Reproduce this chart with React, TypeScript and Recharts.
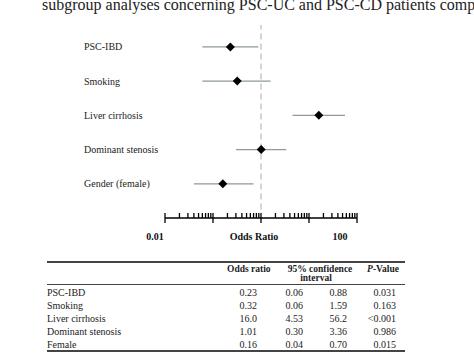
import React from 'react';
import {
  ScatterChart,
  Scatter,
  XAxis,
  YAxis,
  ErrorBar,
  ReferenceLine,
} from 'recharts';

const factorLabels = ['PSC-IBD', 'Smoking', 'Liver cirrhosis', 'Dominant stenosis', 'Gender (female)'];
const tableLabels = ['PSC-IBD', 'Smoking', 'Liver cirrhosis', 'Dominant stenosis', 'Female'];
const oddsRatios = [0.23, 0.32, 16.0, 1.01, 0.16];
const ciLow = [0.06, 0.06, 4.53, 0.3, 0.04];
const ciHigh = [0.88, 1.59, 56.2, 3.36, 0.7];
const pValues = ['0.031', '0.163', '<0.001', '0.986', '0.015'];
const oddsText = ['0.23', '0.32', '16.0', '1.01', '0.16'];
const lowText = ['0.06', '0.06', '4.53', '0.30', '0.04'];
const highText = ['0.88', '1.59', '56.2', '3.36', '0.70'];

const majorTicks = [0.01, 0.1, 1, 10, 100];
const axisLabels: Record<string, string> = { '0.01': '0.01', '1': 'Odds Ratio', '100': '100' };

// minor ticks 2..9 inside each decade
const minorTicks = majorTicks.slice(0, -1).flatMap((d) => [2, 3, 4, 5, 6, 7, 8, 9].map((m) => +(d * m).toPrecision(3)));
const allTicks = [...majorTicks, ...minorTicks].sort((a, b) => a - b);

// rows from top (5) to bottom (1)
const data = factorLabels.map((name, i) => ({
  name,
  row: factorLabels.length - i,
  or: oddsRatios[i],
  err: [oddsRatios[i] - ciLow[i], ciHigh[i] - oddsRatios[i]],
}));

const serif = '"Liberation Serif", "DejaVu Serif", serif';

const Diamond = (props: any) => {
  const { cx, cy } = props;
  const s = 4.5;
  return <polygon points={`${cx},${cy - s} ${cx + s},${cy} ${cx},${cy + s} ${cx - s},${cy}`} fill="#000" />;
};

const XTick = (props: any) => {
  const { x, y, payload } = props;
  const v = payload.value;
  const major = majorTicks.includes(v);
  const label = axisLabels[String(v)];
  const shift = v === 0.01 ? -10 : v === 100 ? -17 : v === 1 ? -7 : 0;
  return (
    <g>
      <line x1={x} x2={x} y1={y - 5} y2={major ? y + 5 : y} stroke="#000" strokeWidth={1.3} />
      {label && (
        <text x={x + shift} y={y + 22} textAnchor="middle" fontFamily={serif} fontWeight="bold" fontSize={10} fill="#111">
          {label}
        </text>
      )}
    </g>
  );
};

const YTick = (props: any) => {
  const { y, payload } = props;
  const name = factorLabels[factorLabels.length - payload.value];
  return (
    <text x={84} y={y} dy={3.5} textAnchor="start" fontFamily={serif} fontSize={10} fill="#222">
      {name}
    </text>
  );
};

const colRight = [257, 303, 347, 396];
const rowY = [292, 305.5, 318.5, 331, 344];

const cell = (text: React.ReactNode, y: number, style: React.CSSProperties) => (
  <div
    style={{
      position: 'absolute',
      top: y - 6.5,
      lineHeight: '13px',
      fontSize: 10,
      fontFamily: serif,
      color: '#222',
      whiteSpace: 'nowrap',
      ...style,
    }}
  >
    {text}
  </div>
);

const rule = (y: number, h: number) => (
  <div style={{ position: 'absolute', left: 47, width: 358, top: y, height: h, background: '#444' }} />
);

export default function App() {
  return (
    <div style={{ position: 'absolute', left: 0, top: 0, width: 474, height: 361, overflow: 'hidden', background: '#fff' }}>
      <div
        style={{
          position: 'absolute',
          left: 42,
          top: -3.5,
          fontFamily: serif,
          fontSize: 16,
          lineHeight: '16px',
          color: '#222',
          whiteSpace: 'nowrap',
        }}
      >
        subgroup analyses concerning PSC-UC and PSC-CD patients compar
      </div>

      <div style={{ position: 'absolute', left: 0, top: 0 }}>
        <ScatterChart width={474} height={250} margin={{ top: 25, right: 117, bottom: 2, left: 84 }}>
          <XAxis
            type="number"
            dataKey="or"
            scale="log"
            domain={[0.01, 100]}
            ticks={allTicks}
            interval={0}
            tick={<XTick />}
            tickLine={false}
            tickSize={0}
            tickMargin={0}
            height={30}
            axisLine={{ stroke: '#000', strokeWidth: 1.5 }}
            allowDataOverflow
          />
          <YAxis
            type="number"
            dataKey="row"
            domain={[0, 5.64]}
            ticks={[1, 2, 3, 4, 5]}
            interval={0}
            width={81}
            tick={<YTick />}
            tickLine={false}
            axisLine={false}
            allowDataOverflow
          />
          <ReferenceLine
            segment={[
              { x: 1, y: 0.25 },
              { x: 1, y: 5.64 },
            ]}
            stroke="#c8c8c8"
            strokeWidth={1.5}
            strokeDasharray="6 4"
          />
          <Scatter data={data} shape={<Diamond />} isAnimationActive={false}>
            <ErrorBar dataKey="err" direction="x" width={0} stroke="#8e9a9a" strokeWidth={1.2} isAnimationActive={false} />
          </Scatter>
        </ScatterChart>
      </div>

      {rule(261, 1.5)}
      {rule(283.5, 1.2)}
      {rule(350, 1.5)}

      {cell('Odds ratio', 269, { left: 227, width: 43, textAlign: 'center', fontWeight: 'bold', fontSize: 9.5 })}
      {cell('95% confidence', 269, { left: 280, width: 80, textAlign: 'center', fontWeight: 'bold', fontSize: 9.5 })}
      {cell('interval', 278.5, { left: 280, width: 72, textAlign: 'center', fontWeight: 'bold', fontSize: 9.5 })}
      {cell(
        <span>
          <i>P</i>-Value
        </span>,
        269,
        { left: 363, width: 40, textAlign: 'center', fontWeight: 'bold', fontSize: 9.5 }
      )}

      {tableLabels.map((label, i) => (
        <React.Fragment key={label}>
          {cell(label, rowY[i], { left: 47 })}
          {cell(oddsText[i], rowY[i], { right: 474 - colRight[0], textAlign: 'right' })}
          {cell(lowText[i], rowY[i], { right: 474 - colRight[1], textAlign: 'right' })}
          {cell(highText[i], rowY[i], { right: 474 - colRight[2], textAlign: 'right' })}
          {cell(pValues[i], rowY[i], { right: 474 - colRight[3], textAlign: 'right' })}
        </React.Fragment>
      ))}
    </div>
  );
}
